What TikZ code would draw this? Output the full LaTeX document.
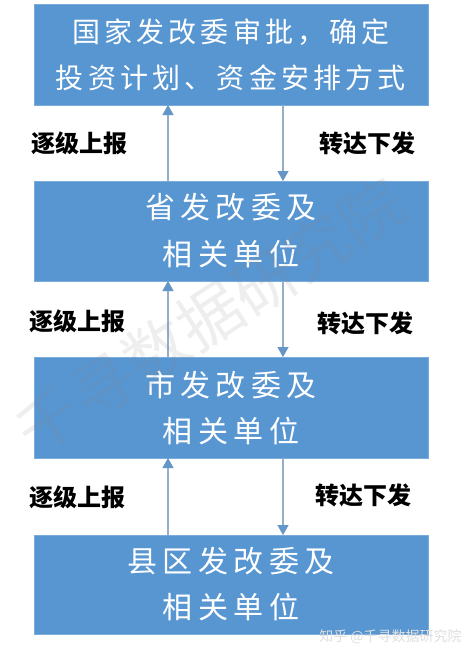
\documentclass[tikz,border=0pt]{standalone}
\usepackage{fontspec}
\usetikzlibrary{arrows.meta}
\newfontfamily\cjkbox[LetterSpace=18]{Noto Sans CJK SC}
\newfontfamily\cjkboxA[LetterSpace=15]{Noto Sans CJK SC}
\newfontfamily\cjklab{Noto Sans CJK SC}
\definecolor{boxblue}{RGB}{88,150,210}
\definecolor{linecol}{RGB}{150,174,200}
\definecolor{tipcol}{RGB}{100,150,200}
\tikzset{
  levelbox/.style={draw=boxblue!80!white, line width=0.8pt, fill=boxblue, minimum width=394pt, minimum height=101pt, inner sep=0pt, text=white, align=center},
  steplabel/.style={font=\cjklab\bfseries\fontsize{24}{28}\selectfont, text=black, inner sep=0pt},
  uparrow/.style={draw=linecol, line width=1.2pt, -{Triangle[width=11pt,length=10pt,color=tipcol]}},
  wmark/.style={font=\cjklab\fontsize{64}{70}\selectfont, text=gray, opacity=0.13, inner sep=0pt}
}
\begin{document}
\begin{tikzpicture}[x=1pt,y=-1pt]
\useasboundingbox (0,0) rectangle (474,654);
\fill[white] (0,0) rectangle (474,654);
% boxes
\node[levelbox, font=\cjkboxA\fontsize{28}{46}\selectfont] (b1) at (231,54.5) {国家发改委审批，确定\\投资计划、资金安排方式};
\node[levelbox, minimum height=100pt, font=\cjkbox\fontsize{30}{47}\selectfont] (b2) at (231,231) {省发改委及\\相关单位};
\node[levelbox, font=\cjkbox\fontsize{30}{46}\selectfont] (b3) at (231,407.5) {市发改委及\\相关单位};
\node[levelbox, minimum height=99pt, font=\cjkbox\fontsize{30}{46}\selectfont] (b4) at (231,584.5) {县区发改委及\\相关单位};
% connector anchor points
\coordinate (u1s) at (168,181); \coordinate (u1e) at (168,105);
\coordinate (d1s) at (283,105); \coordinate (d1e) at (283,181);
\coordinate (u2s) at (168,357); \coordinate (u2e) at (168,281);
\coordinate (d2s) at (283,281); \coordinate (d2e) at (283,357);
\coordinate (u3s) at (168,535); \coordinate (u3e) at (168,458);
\coordinate (d3s) at (283,458); \coordinate (d3e) at (283,535);
\draw[uparrow] (u1s) -- (u1e);
\draw[uparrow] (d1s) -- (d1e);
\draw[uparrow] (u2s) -- (u2e);
\draw[uparrow] (d2s) -- (d2e);
\draw[uparrow] (u3s) -- (u3e);
\draw[uparrow] (d3s) -- (d3e);
% labels
\node[steplabel] (l1) at (79,143) {逐级上报};
\node[steplabel] (r1) at (367,143) {转达下发};
\node[steplabel] (l2) at (78,321) {逐级上报};
\node[steplabel] (r2) at (365,323) {转达下发};
\node[steplabel] (l3) at (78,497) {逐级上报};
\node[steplabel] (r3) at (363,495) {转达下发};
% watermark
\node[wmark, rotate=33] (wm) at (210,316) {千寻数据研究院};
\node[font=\cjklab\fontsize{14}{16}\selectfont, text=white!75!gray, inner sep=0pt] (cr) at (390.5,636.5) {知乎 @千寻数据研究院};
\end{tikzpicture}
\end{document}
